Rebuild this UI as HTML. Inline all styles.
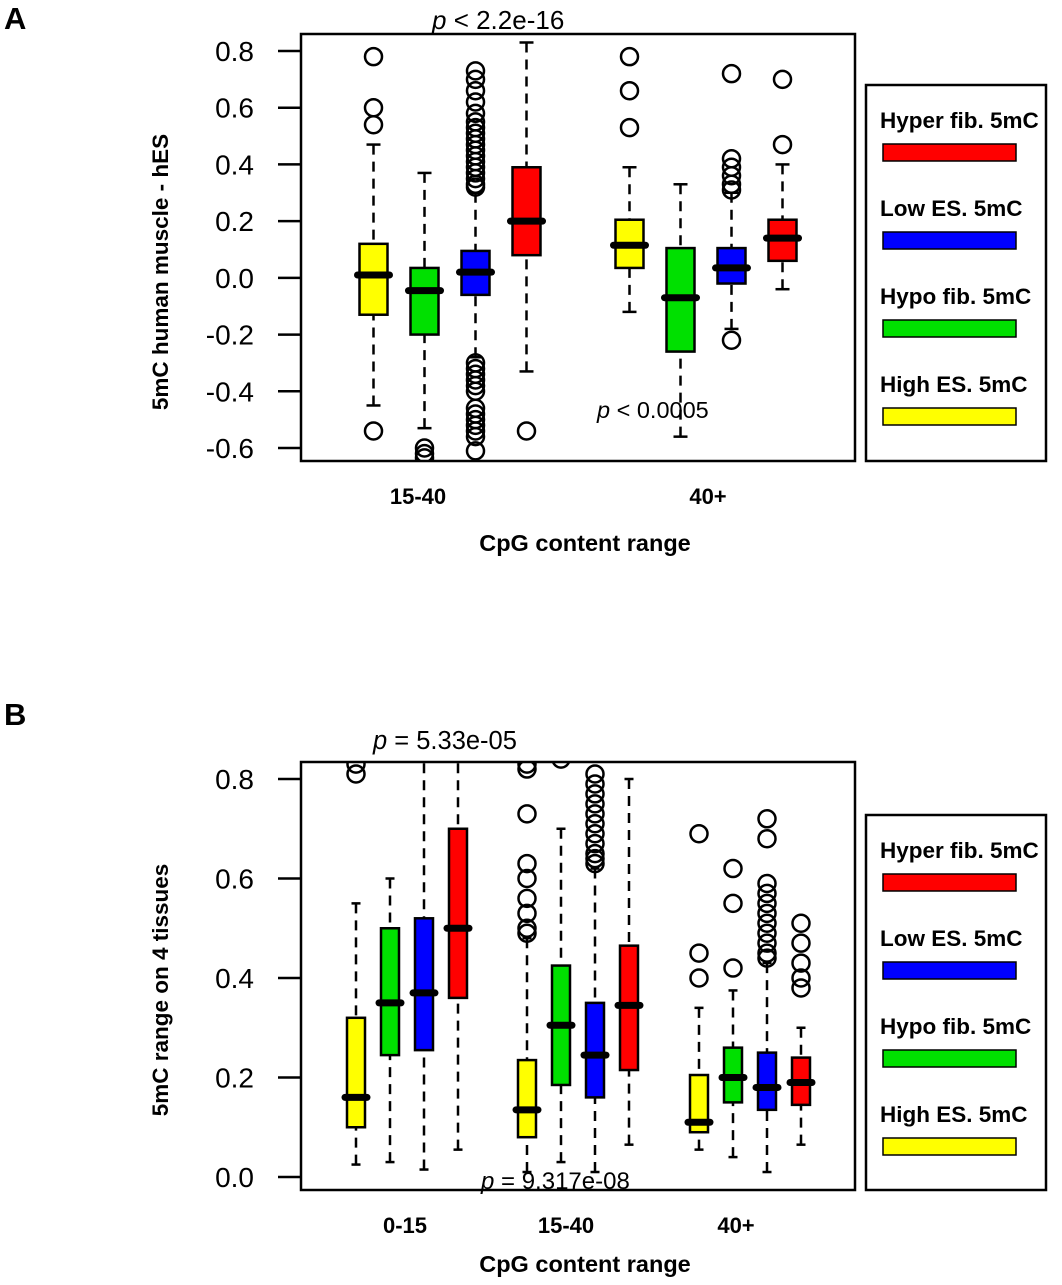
<!DOCTYPE html>
<html><head><meta charset="utf-8"><style>
body{margin:0;background:#fff}
svg text{font-family:"Liberation Sans",Arial,sans-serif}
</style></head><body>
<svg id="fig" width="1062" height="1280" viewBox="0 0 1062 1280" xmlns="http://www.w3.org/2000/svg">
<text x="4" y="29" font-size="31" font-weight="bold">A</text>
<text x="4" y="725" font-size="31" font-weight="bold">B</text>
</svg>
<script>
// Panel A data
const catsA = ["15-40","40+"];
const seriesNames = ["High ES. 5mC","Hypo fib. 5mC","Low ES. 5mC","Hyper fib. 5mC"];
const colors = ["#ffff00","#00e000","#0000ff","#ff0000"];
// [lo, q1, med, q3, hi] per group per series
const statsA_g1 = [[-0.45,-0.13,0.01,0.12,0.47],[-0.53,-0.2,-0.045,0.035,0.37],[-0.28,-0.06,0.02,0.095,0.3],[-0.33,0.08,0.2,0.39,0.83]];
const statsA_g2 = [[-0.12,0.035,0.115,0.205,0.39],[-0.56,-0.26,-0.07,0.105,0.33],[-0.18,-0.02,0.035,0.105,0.3],[-0.04,0.06,0.14,0.205,0.4]];
const outA_g1 = [[0.78,0.60,0.54,-0.54],[-0.6,-0.62,-0.635],[0.73,0.70,0.66,0.62,0.58,0.55,0.53,0.51,0.49,0.47,0.45,0.43,0.41,0.39,0.37,0.35,0.33,0.32,-0.3,-0.32,-0.34,-0.36,-0.38,-0.4,-0.46,-0.48,-0.5,-0.52,-0.54,-0.56,-0.61],[-0.54]];
const outA_g2 = [[0.78,0.66,0.53],[],[0.72,0.42,0.39,0.36,0.33,0.31,-0.22],[0.70,0.47]];
const ticksA = [0.8,0.6,0.4,0.2,0.0,-0.2,-0.4,-0.6];
// Panel B data
const catsB = ["0-15","15-40","40+"];
const statsB_g1 = [[0.025,0.10,0.16,0.32,0.55],[0.03,0.245,0.35,0.50,0.60],[0.015,0.255,0.37,0.52,0.9],[0.055,0.36,0.5,0.70,0.9]];
const statsB_g2 = [[0.01,0.08,0.135,0.235,0.48],[0.03,0.185,0.305,0.425,0.70],[0.01,0.16,0.245,0.35,0.62],[0.065,0.215,0.345,0.465,0.80]];
const statsB_g3 = [[0.055,0.09,0.11,0.205,0.34],[0.04,0.15,0.2,0.26,0.375],[0.01,0.135,0.18,0.25,0.43],[0.065,0.145,0.19,0.24,0.30]];
const outB_g1 = [[0.81,0.83],[],[],[]];
const outB_g2 = [[0.82,0.83,0.73,0.63,0.60,0.56,0.53,0.50,0.49],[0.84],[0.81,0.79,0.77,0.75,0.73,0.71,0.69,0.67,0.65,0.64,0.63],[]];
const outB_g3 = [[0.69,0.45,0.40],[0.62,0.55,0.42],[0.72,0.68,0.59,0.57,0.55,0.53,0.51,0.49,0.47,0.45,0.44],[0.51,0.47,0.43,0.40,0.38]];
const ticksB = [0.8,0.6,0.4,0.2,0.0];

const NS="http://www.w3.org/2000/svg";
const svg=document.getElementById('fig');
function mk(tag,attrs,parent){const e=document.createElementNS(NS,tag);for(const k in attrs)e.setAttribute(k,attrs[k]);(parent||svg).appendChild(e);return e;}

function panel(o){
  const g=mk('g',{});
  
  
  const y=v=>o.y0+(v-o.v0)*(o.y1-o.y0)/(o.v1-o.v0);
  const defs=mk('clipPath',{id:o.name+'-clip'},g);
  mk('rect',{x:o.L,y:o.T,width:o.R-o.L,height:o.B-o.T},defs);
  const plot=mk('g',{'clip-path':'url(#'+o.name+'-clip)'},g);
  o.groups.forEach((grp,gi)=>{
    grp.stats.forEach((s,si)=>{
      const cx=o.bx[gi]+(si-1.5)*o.dx, hw=o.bw/2;
      const bg=mk('g',{},plot);
      
      
      mk('line',{x1:cx,x2:cx,y1:y(s[0]),y2:y(s[1]),stroke:'#000','stroke-width':2.5,'stroke-dasharray':'10,7'},bg);
      mk('line',{x1:cx,x2:cx,y1:y(s[4]),y2:y(s[3]),stroke:'#000','stroke-width':2.5,'stroke-dasharray':'10,7'},bg);
      mk('line',{x1:cx-hw/2,x2:cx+hw/2,y1:y(s[0]),y2:y(s[0]),stroke:'#000','stroke-width':2.5},bg);
      mk('line',{x1:cx-hw/2,x2:cx+hw/2,y1:y(s[4]),y2:y(s[4]),stroke:'#000','stroke-width':2.5},bg);
      mk('rect',{x:cx-hw,y:y(s[3]),width:o.bw,height:y(s[1])-y(s[3]),fill:colors[si],stroke:'#000','stroke-width':2.5},bg);
      mk('line',{x1:cx-hw-2,x2:cx+hw+2,y1:y(s[2]),y2:y(s[2]),stroke:'#000','stroke-width':7,'stroke-linecap':'round'},bg);
      grp.out[si].forEach(v=>{
        const c=mk('circle',{cx:cx,cy:y(v),r:8.5,fill:'none',stroke:'#000','stroke-width':2.5},bg);
        
        
      });
    });
  });
  const frame=mk('rect',{x:o.L,y:o.T,width:o.R-o.L,height:o.B-o.T,fill:'none',stroke:'#000','stroke-width':2.5},g);
  
  
  o.ticks.forEach(t=>{
    mk('line',{x1:o.L-23,x2:o.L,y1:y(t),y2:y(t),stroke:'#000','stroke-width':2.5},g);
    const tx=mk('text',{x:o.L-47,y:y(t)+10,'font-size':28,'text-anchor':'end'},g);
    tx.textContent=t.toFixed(1);
    
    
  });
  o.cats.forEach((c,i)=>{
    const tx=mk('text',{x:o.xs[i],y:o.B+43,'font-size':22,'font-weight':'bold','text-anchor':'middle'},g);
    tx.textContent=c;
    
    
  });
  const xt=mk('text',{x:585,y:o.xtY,'font-size':23.5,'font-weight':'bold','text-anchor':'middle'},g);
  xt.textContent='CpG content range';
  
  
  const yt=mk('text',{x:0,y:0,'font-size':22.5,'font-weight':'bold','text-anchor':'middle',transform:'translate(168,'+o.ytY+') rotate(-90)'},g);
  yt.textContent=o.ytitle;
  
  
  o.pvals.forEach(p=>{
    const t=mk('text',{x:p.x,y:p.y,'font-size':p.s},g);
    t.innerHTML='<tspan font-style="italic">p</tspan> '+p.t;
    
    
  });
  // legend
  const lg=mk('g',{},g);
  
  
  mk('rect',{x:866,y:o.legT,width:180,height:o.B-o.legT,fill:'none',stroke:'#000','stroke-width':2.5},lg);
  [3,2,1,0].forEach((si,k)=>{
    const e=mk('g',{},lg);
    
    
    const t=mk('text',{x:880,y:o.legT+43+k*88,'font-size':22.5,'font-weight':'bold'},e);
    t.textContent=seriesNames[si];
    mk('rect',{x:883,y:o.legT+59+k*88,width:133,height:17,fill:colors[si],stroke:'#000','stroke-width':1.5},e);
  });
}

panel({name:'panel-a',L:301,R:855,T:34,B:461,y0:51,v0:0.8,y1:448,v1:-0.6,
  xs:[418,708],bx:[450,706],dx:51,bw:28,cats:catsA,ticks:ticksA,
  groups:[{stats:statsA_g1,out:outA_g1},{stats:statsA_g2,out:outA_g2}],
  xtY:551,ytitle:'5mC human muscle - hES',ytY:272,legT:85,
  pvals:[{x:432,y:29,t:'< 2.2e-16',s:26},{x:597,y:418,t:'< 0.0005',s:23.5}]});
panel({name:'panel-b',L:301,R:855,T:762,B:1190,y0:779,v0:0.8,y1:1177,v1:0.0,
  xs:[405,566,736],bx:[407,578,750],dx:34,bw:18,cats:catsB,ticks:ticksB,
  groups:[{stats:statsB_g1,out:outB_g1},{stats:statsB_g2,out:outB_g2},{stats:statsB_g3,out:outB_g3}],
  xtY:1272,ytitle:'5mC range on 4 tissues',ytY:990,legT:815,
  pvals:[{x:373,y:749,t:'= 5.33e-05',s:25.5},{x:481,y:1189,t:'= 9.317e-08',s:24}]});
</script>
</body></html>
